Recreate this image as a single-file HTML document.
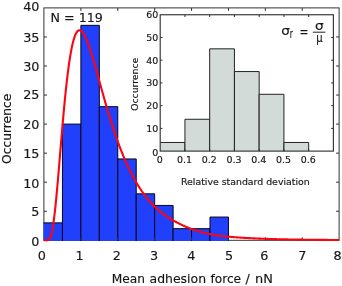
<!DOCTYPE html>
<html><head><meta charset="utf-8"><title>Adhesion force histogram</title>
<style>
html,body{margin:0;padding:0;background:#fff}
svg text{font-family:"DejaVu Sans","Liberation Sans",sans-serif;fill:#161616;stroke:#161616;stroke-width:0.15px}
.t{font-size:12.3px}
.s{font-size:9px}
</style></head><body>
<svg width="342" height="286" viewBox="0 0 342 286" style="display:block">
<rect width="342" height="286" fill="#fff"/>
<rect x="43.9" y="7.9" width="295.20" height="232.40" fill="none" stroke="#333" stroke-width="1"/>
<rect x="43.50" y="222.87" width="18.94" height="17.98" fill="#2040fc"/>
<path d="M43.50 222.87H62.44V240.85" fill="none" stroke="#06061e" stroke-width="1"/>
<rect x="62.44" y="124.10" width="18.44" height="116.75" fill="#2040fc"/>
<path d="M62.44 240.85V124.10H80.89V240.85" fill="none" stroke="#06061e" stroke-width="1"/>
<rect x="80.89" y="25.33" width="18.44" height="215.52" fill="#2040fc"/>
<path d="M80.89 240.85V25.33H99.33V240.85" fill="none" stroke="#06061e" stroke-width="1"/>
<rect x="99.33" y="106.67" width="18.44" height="134.18" fill="#2040fc"/>
<path d="M99.33 240.85V106.67H117.78V240.85" fill="none" stroke="#06061e" stroke-width="1"/>
<rect x="117.78" y="158.96" width="18.44" height="81.89" fill="#2040fc"/>
<path d="M117.78 240.85V158.96H136.22V240.85" fill="none" stroke="#06061e" stroke-width="1"/>
<rect x="136.22" y="193.82" width="18.44" height="47.03" fill="#2040fc"/>
<path d="M136.22 240.85V193.82H154.66V240.85" fill="none" stroke="#06061e" stroke-width="1"/>
<rect x="154.66" y="205.44" width="18.44" height="35.41" fill="#2040fc"/>
<path d="M154.66 240.85V205.44H173.11V240.85" fill="none" stroke="#06061e" stroke-width="1"/>
<rect x="173.11" y="228.68" width="18.44" height="12.17" fill="#2040fc"/>
<path d="M173.11 240.85V228.68H191.55V240.85" fill="none" stroke="#06061e" stroke-width="1"/>
<rect x="191.55" y="228.68" width="18.44" height="12.17" fill="#2040fc"/>
<path d="M191.55 240.85V228.68H209.99V240.85" fill="none" stroke="#06061e" stroke-width="1"/>
<rect x="209.99" y="217.06" width="18.44" height="23.79" fill="#2040fc"/>
<path d="M209.99 240.85V217.06H228.44V240.85" fill="none" stroke="#06061e" stroke-width="1"/>
<text x="37.83" y="259.90" class="t" textLength="8.14" lengthAdjust="spacingAndGlyphs">0</text>
<path d="M80.89 240.3v-3.0M80.89 7.9v3.0" stroke="#333" stroke-width="1"/>
<text x="75.48" y="259.90" class="t" textLength="8.14" lengthAdjust="spacingAndGlyphs">1</text>
<path d="M117.78 240.3v-3.0M117.78 7.9v3.0" stroke="#333" stroke-width="1"/>
<text x="112.73" y="259.90" class="t" textLength="8.14" lengthAdjust="spacingAndGlyphs">2</text>
<path d="M154.66 240.3v-3.0M154.66 7.9v3.0" stroke="#333" stroke-width="1"/>
<text x="150.13" y="259.90" class="t" textLength="8.14" lengthAdjust="spacingAndGlyphs">3</text>
<path d="M191.55 240.3v-3.0M191.55 7.9v3.0" stroke="#333" stroke-width="1"/>
<text x="187.23" y="259.90" class="t" textLength="8.14" lengthAdjust="spacingAndGlyphs">4</text>
<path d="M228.44 240.3v-3.0M228.44 7.9v3.0" stroke="#333" stroke-width="1"/>
<text x="225.03" y="259.90" class="t" textLength="8.14" lengthAdjust="spacingAndGlyphs">5</text>
<path d="M265.33 240.3v-3.0M265.33 7.9v3.0" stroke="#333" stroke-width="1"/>
<text x="260.33" y="259.90" class="t" textLength="8.14" lengthAdjust="spacingAndGlyphs">6</text>
<path d="M302.21 240.3v-3.0M302.21 7.9v3.0" stroke="#333" stroke-width="1"/>
<text x="298.28" y="259.90" class="t" textLength="8.14" lengthAdjust="spacingAndGlyphs">7</text>
<text x="333.53" y="259.90" class="t" textLength="8.14" lengthAdjust="spacingAndGlyphs">8</text>
<text x="31.36" y="246.00" class="t" textLength="8.14" lengthAdjust="spacingAndGlyphs">0</text>
<path d="M44.0 211.25h3.0M339.1 211.25h-3.0" stroke="#333" stroke-width="1"/>
<text x="31.36" y="216.30" class="t" textLength="8.14" lengthAdjust="spacingAndGlyphs">5</text>
<path d="M44.0 182.20h3.0M339.1 182.20h-3.0" stroke="#333" stroke-width="1"/>
<text x="23.22" y="187.70" class="t" textLength="16.28" lengthAdjust="spacingAndGlyphs">10</text>
<path d="M44.0 153.15h3.0M339.1 153.15h-3.0" stroke="#333" stroke-width="1"/>
<text x="23.22" y="157.70" class="t" textLength="16.28" lengthAdjust="spacingAndGlyphs">15</text>
<path d="M44.0 124.10h3.0M339.1 124.10h-3.0" stroke="#333" stroke-width="1"/>
<text x="23.22" y="128.60" class="t" textLength="16.28" lengthAdjust="spacingAndGlyphs">20</text>
<path d="M44.0 95.05h3.0M339.1 95.05h-3.0" stroke="#333" stroke-width="1"/>
<text x="23.22" y="99.40" class="t" textLength="16.28" lengthAdjust="spacingAndGlyphs">25</text>
<path d="M44.0 66.00h3.0M339.1 66.00h-3.0" stroke="#333" stroke-width="1"/>
<text x="23.22" y="71.00" class="t" textLength="16.28" lengthAdjust="spacingAndGlyphs">30</text>
<path d="M44.0 36.95h3.0M339.1 36.95h-3.0" stroke="#333" stroke-width="1"/>
<text x="23.22" y="41.55" class="t" textLength="16.28" lengthAdjust="spacingAndGlyphs">35</text>
<text x="23.22" y="10.50" class="t" textLength="16.28" lengthAdjust="spacingAndGlyphs">40</text>
<polyline points="44.0,240.3 44.74,240.30 45.48,240.30 46.21,240.30 46.95,240.27 47.69,240.15 48.43,239.85 49.16,239.22 49.90,238.12 50.64,236.41 51.38,233.98 52.12,230.76 52.85,226.72 53.59,221.85 54.33,216.20 55.07,209.81 55.80,202.78 56.54,195.19 57.28,187.14 58.02,178.74 58.76,170.08 59.49,161.27 60.23,152.39 60.97,143.54 61.71,134.78 62.44,126.18 63.18,117.81 63.92,109.72 64.66,101.95 65.39,94.52 66.13,87.48 66.87,80.84 67.61,74.62 68.35,68.83 69.08,63.47 69.82,58.55 70.56,54.05 71.30,49.99 72.03,46.35 72.77,43.11 73.51,40.28 74.25,37.83 74.99,35.75 75.72,34.03 76.46,32.64 77.20,31.59 77.94,30.84 78.67,30.38 79.41,30.20 80.15,30.28 80.89,30.60 81.63,31.15 82.36,31.91 83.10,32.87 83.84,34.01 84.58,35.33 85.31,36.80 86.05,38.42 86.79,40.17 87.53,42.04 88.27,44.02 89.00,46.10 89.74,48.27 90.48,50.52 91.22,52.84 91.95,55.23 92.69,57.67 93.43,60.16 94.17,62.69 94.90,65.25 95.64,67.85 96.38,70.46 97.12,73.10 97.86,75.75 98.59,78.40 99.33,81.06 100.07,83.72 100.81,86.38 101.54,89.03 102.28,91.67 103.02,94.30 103.76,96.92 104.50,99.51 105.23,102.09 105.97,104.64 106.71,107.17 107.45,109.68 108.18,112.16 108.92,114.61 109.66,117.03 110.40,119.43 111.14,121.79 111.87,124.12 112.61,126.42 113.35,128.68 114.09,130.91 114.82,133.11 115.56,135.28 116.30,137.41 117.04,139.50 117.78,141.56 118.51,143.59 119.25,145.58 119.99,147.53 120.73,149.45 121.46,151.34 122.20,153.19 122.94,155.01 123.68,156.80 124.41,158.55 125.15,160.27 125.89,161.95 126.63,163.61 127.37,165.23 128.10,166.82 128.84,168.37 129.58,169.90 130.32,171.39 131.05,172.86 131.79,174.30 132.53,175.70 133.27,177.08 134.01,178.43 134.74,179.75 135.48,181.04 136.22,182.31 136.96,183.55 137.69,184.76 138.43,185.95 139.17,187.12 139.91,188.25 140.65,189.37 141.38,190.46 142.12,191.52 142.86,192.57 143.60,193.59 144.33,194.59 145.07,195.57 145.81,196.52 146.55,197.46 147.28,198.37 148.02,199.27 148.76,200.14 149.50,201.00 150.24,201.84 150.97,202.66 151.71,203.46 152.45,204.24 153.19,205.01 153.92,205.76 154.66,206.49 155.40,207.21 156.14,207.91 156.88,208.60 157.61,209.27 158.35,209.93 159.09,210.57 159.83,211.19 160.56,211.81 161.30,212.41 162.04,213.00 162.78,213.57 163.52,214.13 164.25,214.68 164.99,215.22 165.73,215.74 166.47,216.25 167.20,216.76 167.94,217.25 168.68,217.73 169.42,218.20 170.16,218.66 170.89,219.11 171.63,219.55 172.37,219.98 173.11,220.40 173.84,220.81 174.58,221.22 175.32,221.62 176.06,222.02 176.80,222.41 177.53,222.80 178.27,223.18 179.01,223.55 179.75,223.92 180.48,224.28 181.22,224.64 181.96,224.99 182.70,225.34 183.43,225.67 184.17,226.01 184.91,226.33 185.65,226.66 186.39,226.97 187.12,227.28 187.86,227.58 188.60,227.88 189.34,228.17 190.07,228.45 190.81,228.73 191.55,229.01 192.29,229.27 193.03,229.53 193.76,229.79 194.50,230.04 195.24,230.28 195.98,230.52 196.71,230.76 197.45,230.99 198.19,231.21 198.93,231.43 199.67,231.64 200.40,231.85 201.14,232.05 201.88,232.25 202.62,232.44 203.35,232.63 204.09,232.81 204.83,232.99 205.57,233.16 206.31,233.33 207.04,233.50 207.78,233.66 208.52,233.81 209.26,233.96 209.99,234.11 210.73,234.26 211.47,234.40 212.21,234.53 212.94,234.66 213.68,234.79 214.42,234.92 215.16,235.04 215.90,235.16 216.63,235.27 217.37,235.38 218.11,235.49 218.85,235.59 219.58,235.70 220.32,235.79 221.06,235.89 221.80,235.98 222.54,236.07 223.27,236.16 224.01,236.24 224.75,236.32 225.49,236.40 226.22,236.48 226.96,236.55 227.70,236.62 228.44,236.69 229.18,236.76 229.91,236.82 230.65,236.89 231.39,236.95 232.13,237.01 232.86,237.07 233.60,237.13 234.34,237.19 235.08,237.24 235.82,237.30 236.55,237.35 237.29,237.41 238.03,237.46 238.77,237.51 239.50,237.56 240.24,237.61 240.98,237.66 241.72,237.71 242.45,237.75 243.19,237.80 243.93,237.84 244.67,237.89 245.41,237.93 246.14,237.97 246.88,238.02 247.62,238.06 248.36,238.10 249.09,238.13 249.83,238.17 250.57,238.21 251.31,238.25 252.05,238.28 252.78,238.32 253.52,238.35 254.26,238.39 255.00,238.42 255.73,238.45 256.47,238.49 257.21,238.52 257.95,238.55 258.69,238.58 259.42,238.61 260.16,238.64 260.90,238.67 261.64,238.70 262.37,238.72 263.11,238.75 263.85,238.78 264.59,238.80 265.33,238.83 266.06,238.85 266.80,238.88 267.54,238.90 268.28,238.93 269.01,238.95 269.75,238.97 270.49,239.00 271.23,239.02 271.96,239.04 272.70,239.06 273.44,239.08 274.18,239.10 274.92,239.12 275.65,239.14 276.39,239.16 277.13,239.18 277.87,239.20 278.60,239.22 279.34,239.24 280.08,239.25 280.82,239.27 281.56,239.29 282.29,239.30 283.03,239.32 283.77,239.34 284.51,239.35 285.24,239.37 285.98,239.38 286.72,239.40 287.46,239.41 288.20,239.43 288.93,239.44 289.67,239.46 290.41,239.47 291.15,239.48 291.88,239.50 292.62,239.51 293.36,239.52 294.10,239.54 294.84,239.55 295.57,239.56 296.31,239.57 297.05,239.58 297.79,239.60 298.52,239.61 299.26,239.62 300.00,239.63 300.74,239.64 301.47,239.65 302.21,239.66 302.95,239.67 303.69,239.68 304.43,239.69 305.16,239.70 305.90,239.71 306.64,239.72 307.38,239.73 308.11,239.74 308.85,239.75 309.59,239.75 310.33,239.76 311.07,239.77 311.80,239.78 312.54,239.79 313.28,239.80 314.02,239.80 314.75,239.81 315.49,239.82 316.23,239.83 316.97,239.83 317.71,239.84 318.44,239.85 319.18,239.86 319.92,239.86 320.66,239.87 321.39,239.88 322.13,239.88 322.87,239.89 323.61,239.89 324.35,239.90 325.08,239.91 325.82,239.91 326.56,239.92 327.30,239.92 328.03,239.93 328.77,239.94 329.51,239.94 330.25,239.95 330.98,239.95 331.72,239.96 332.46,239.96 333.20,239.97 333.94,239.97 334.67,239.98 335.41,239.98 336.15,239.99 336.89,239.99 337.62,240.00 338.36,240.00 339.10,240.01" fill="none" stroke="#fc0510" stroke-width="2.1" stroke-linejoin="round"/>
<text x="50.56" y="21.90" class="t" textLength="52.33" lengthAdjust="spacingAndGlyphs">N = 119</text>
<g transform="translate(10.9,0) rotate(-90)"><text x="-163.99" y="0.00" class="t" textLength="70.23" lengthAdjust="spacingAndGlyphs">Occurrence</text></g>
<text x="111.70" y="282.75" class="t" textLength="33.23" lengthAdjust="spacingAndGlyphs">Mean</text>
<text x="149.55" y="282.75" class="t" textLength="56.50" lengthAdjust="spacingAndGlyphs">adhesion</text>
<text x="210.42" y="282.75" class="t" textLength="30.72" lengthAdjust="spacingAndGlyphs">force</text>
<text x="245.50" y="282.75" class="t" textLength="4.30" lengthAdjust="spacingAndGlyphs">/</text>
<text x="255.03" y="282.75" class="t" textLength="17.84" lengthAdjust="spacingAndGlyphs">nN</text>
<rect x="160.2" y="14.75" width="173.20" height="136.35" fill="#fff"/>
<rect x="160.20" y="142.46" width="24.74" height="8.64" fill="#d3dbd9"/>
<path d="M160.20 142.46H184.94V151.10" fill="none" stroke="#222" stroke-width="1"/>
<rect x="184.94" y="119.28" width="24.74" height="31.81" fill="#d3dbd9"/>
<path d="M184.94 151.10V119.28H209.69V151.10" fill="none" stroke="#222" stroke-width="1"/>
<rect x="209.69" y="48.84" width="24.74" height="102.26" fill="#d3dbd9"/>
<path d="M209.69 151.10V48.84H234.43V151.10" fill="none" stroke="#222" stroke-width="1"/>
<rect x="234.43" y="71.56" width="24.74" height="79.54" fill="#d3dbd9"/>
<path d="M234.43 151.10V71.56H259.17V151.10" fill="none" stroke="#222" stroke-width="1"/>
<rect x="259.17" y="94.29" width="24.74" height="56.81" fill="#d3dbd9"/>
<path d="M259.17 151.10V94.29H283.91V151.10" fill="none" stroke="#222" stroke-width="1"/>
<rect x="283.91" y="142.46" width="24.74" height="8.64" fill="#d3dbd9"/>
<path d="M283.91 151.10V142.46H308.66V151.10" fill="none" stroke="#222" stroke-width="1"/>
<rect x="160.2" y="14.75" width="173.20" height="136.35" fill="none" stroke="#333" stroke-width="1.15"/>
<text x="156.79" y="163.40" class="s" textLength="6.01" lengthAdjust="spacingAndGlyphs">0</text>
<path d="M184.94 151.1v-2.3M184.94 14.75v2.3" stroke="#333" stroke-width="1"/>
<text x="177.03" y="163.40" class="s" textLength="15.03" lengthAdjust="spacingAndGlyphs">0.1</text>
<path d="M209.69 151.1v-2.3M209.69 14.75v2.3" stroke="#333" stroke-width="1"/>
<text x="201.77" y="163.40" class="s" textLength="15.03" lengthAdjust="spacingAndGlyphs">0.2</text>
<path d="M234.43 151.1v-2.3M234.43 14.75v2.3" stroke="#333" stroke-width="1"/>
<text x="226.51" y="163.40" class="s" textLength="15.03" lengthAdjust="spacingAndGlyphs">0.3</text>
<path d="M259.17 151.1v-2.3M259.17 14.75v2.3" stroke="#333" stroke-width="1"/>
<text x="251.26" y="163.40" class="s" textLength="15.03" lengthAdjust="spacingAndGlyphs">0.4</text>
<path d="M283.91 151.1v-2.3M283.91 14.75v2.3" stroke="#333" stroke-width="1"/>
<text x="276.00" y="163.40" class="s" textLength="15.03" lengthAdjust="spacingAndGlyphs">0.5</text>
<path d="M308.66 151.1v-2.3M308.66 14.75v2.3" stroke="#333" stroke-width="1"/>
<text x="300.74" y="163.40" class="s" textLength="15.03" lengthAdjust="spacingAndGlyphs">0.6</text>
<text x="152.19" y="155.85" class="s" textLength="6.01" lengthAdjust="spacingAndGlyphs">0</text>
<path d="M160.2 128.38h2.3M333.4 128.38h-2.3" stroke="#333" stroke-width="1"/>
<text x="146.18" y="131.78" class="s" textLength="12.02" lengthAdjust="spacingAndGlyphs">10</text>
<path d="M160.2 105.65h2.3M333.4 105.65h-2.3" stroke="#333" stroke-width="1"/>
<text x="146.18" y="109.05" class="s" textLength="12.02" lengthAdjust="spacingAndGlyphs">20</text>
<path d="M160.2 82.92h2.3M333.4 82.92h-2.3" stroke="#333" stroke-width="1"/>
<text x="146.18" y="86.33" class="s" textLength="12.02" lengthAdjust="spacingAndGlyphs">30</text>
<path d="M160.2 60.20h2.3M333.4 60.20h-2.3" stroke="#333" stroke-width="1"/>
<text x="146.18" y="63.60" class="s" textLength="12.02" lengthAdjust="spacingAndGlyphs">40</text>
<path d="M160.2 37.47h2.3M333.4 37.47h-2.3" stroke="#333" stroke-width="1"/>
<text x="146.18" y="40.87" class="s" textLength="12.02" lengthAdjust="spacingAndGlyphs">50</text>
<text x="146.18" y="18.15" class="s" textLength="12.02" lengthAdjust="spacingAndGlyphs">60</text>
<g transform="translate(138.1,0) rotate(-90)"><text x="-110.82" y="0.00" class="s" textLength="53.01" lengthAdjust="spacingAndGlyphs">Occurrence</text></g>
<text x="180.99" y="184.80" class="s" textLength="128.71" lengthAdjust="spacingAndGlyphs">Relative standard deviation</text>
<text x="281.25" y="35.00" class="t" font-size="10.6" textLength="8.65" lengthAdjust="spacingAndGlyphs">σ</text>
<text x="289.69" y="37.60" class="t" font-size="8.3" textLength="3.21" lengthAdjust="spacingAndGlyphs">r</text>
<text x="299.57" y="35.80" class="t" font-size="11" textLength="8.97" lengthAdjust="spacingAndGlyphs">=</text>
<text x="314.95" y="30.30" class="t" font-size="10.6" textLength="8.65" lengthAdjust="spacingAndGlyphs">σ</text>
<path d="M312.8 32.2H325.4" stroke="#222" stroke-width="1"/>
<text x="316.25" y="42.00" class="t" font-size="10.0" textLength="6.40" lengthAdjust="spacingAndGlyphs">μ</text>
</svg>
</body></html>
